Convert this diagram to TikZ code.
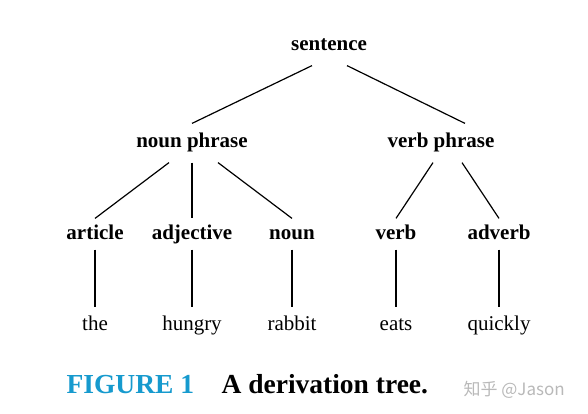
\documentclass[tikz,border=0pt]{standalone}
\usepackage{fontspec}
\setmainfont{Liberation Serif}
\newfontfamily\cjkfont{Noto Sans CJK SC}
\usepackage{tikz}
\definecolor{figblue}{RGB}{22,154,206}
\definecolor{markgray}{RGB}{185,185,185}
\tikzset{
    cat/.style={
        font=\fontsize{21}{25}\selectfont\bfseries,
        anchor=base, inner xsep=0pt, inner ysep=10pt,
        text height=14pt, text depth=4pt
    }
}

\begin{document}
\begin{tikzpicture}[
        x=1pt, y=-1pt,
        leaf/.style={
            font=\fontsize{21}{25}\selectfont,
            anchor=base, inner xsep=0pt, inner ysep=8pt,
            text height=14pt, text depth=4pt
        },
        caption/.style={
            font=\fontsize{27.5}{32}\selectfont\bfseries,
            anchor=base west, inner sep=0pt
        },
        line width=1.2pt
      ]
    \useasboundingbox (0,0) rectangle (588,414);

    \node[cat] (S)   at (329,51)  {sentence};
    \node[cat] (NP)  at (192,148) {noun phrase};
    \node[cat] (VP)  at (441,148) {verb phrase};
    \node[cat,inner ysep=6pt] (Art) at (95,239)  {article};
    \node[cat,inner ysep=6pt] (Adj) at (192,239) {adjective};
    \node[cat,inner ysep=6pt] (N)   at (292,239) {noun};
    \node[cat,inner ysep=6pt] (V)   at (396,239) {verb};
    \node[cat,inner ysep=6pt] (Adv) at (499,239) {adverb};
    \node[leaf] (the)     at (95,330)  {the};
    \node[leaf] (hungry)  at (192,330) {hungry};
    \node[leaf] (rabbit)  at (292,330) {rabbit};
    \node[leaf] (eats)    at (396,330) {eats};
    \node[leaf] (quickly) at (499,330) {quickly};

    \draw ([xshift=-17pt]S.south) -- (NP.north);
    \draw ([xshift=18pt]S.south) -- ([xshift=24pt]VP.north);
    \draw ([xshift=-23pt]NP.south) -- (Art.north);
    \draw (NP.south) -- (Adj.north);
    \draw ([xshift=26pt]NP.south) -- (N.north);
    \draw ([xshift=-8pt]VP.south) -- (V.north);
    \draw ([xshift=21pt]VP.south) -- (Adv.north);
    \draw (Art.south) -- (the.north);
    \draw (Adj.south) -- (hungry.north);
    \draw (N.south) -- (rabbit.north);
    \draw (V.south) -- (eats.north);
    \draw (Adv.south) -- (quickly.north);

    \node[caption,text=figblue] (fig) at (66,393) {FIGURE 1};
    \node[caption] (title) at (221,393) {A derivation tree.};
    \node[anchor=base west,inner sep=0pt,text=markgray,
          font=\fontsize{17}{20}\selectfont\cjkfont] (mark) at (463,395) {知乎 @Jason};

\end{tikzpicture}
\end{document}
